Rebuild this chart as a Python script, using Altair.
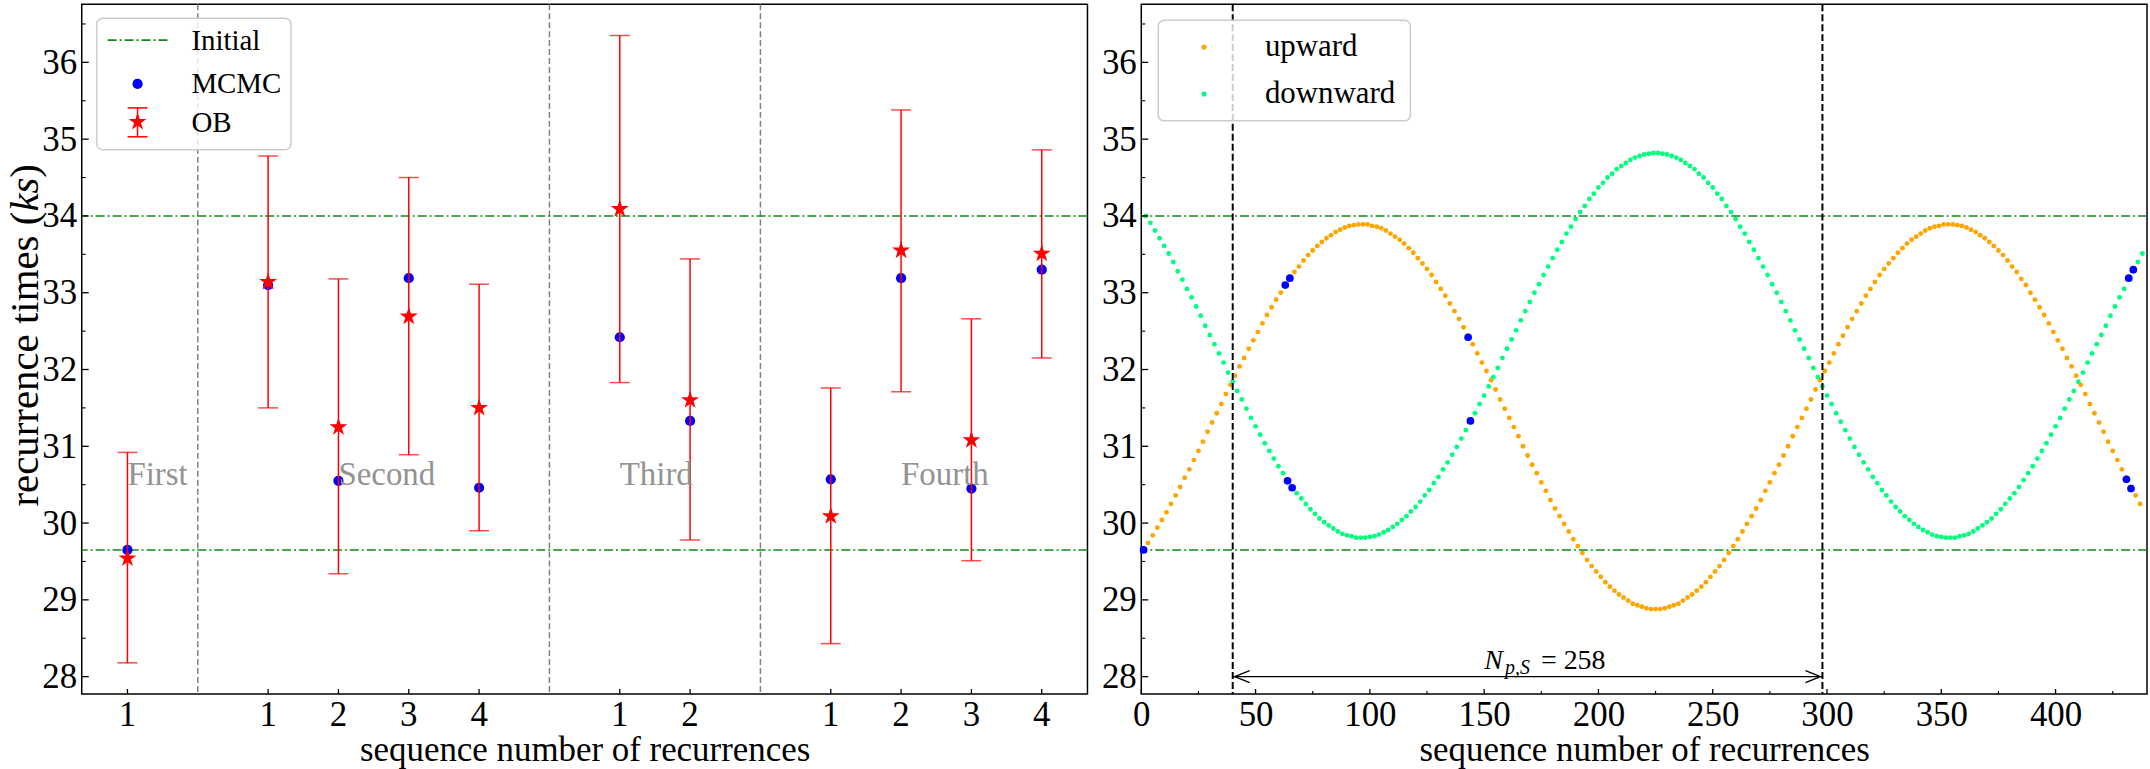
import altair as alt
import pandas as pd

FONT = "Liberation Serif"
W, H = 1009, 692
Y_DOMAIN = [27.774, 36.757]
STAR = ("M0,-1L0.2245,-0.309L0.9511,-0.309L0.3633,0.118L0.5878,0.809L0,0.382"
        "L-0.5878,0.809L-0.3633,0.118L-0.9511,-0.309L-0.2245,-0.309Z")

# ---------------- left panel data ----------------
positions = [0, 2, 3, 4, 5, 7, 8, 10, 11, 12, 13]
tick_labels = ["1", "1", "2", "3", "4", "1", "2", "1", "2", "3", "4"]
mcmc_values = [29.65, 33.10, 30.55, 33.19, 30.46, 32.42, 31.33, 30.57, 33.19, 30.45, 33.30]
ob_values = [29.54, 33.14, 31.25, 32.69, 31.50, 34.09, 31.60, 30.09, 33.55, 31.08, 33.51]
ob_low = [28.18, 31.50, 29.34, 30.89, 29.90, 31.83, 29.78, 28.43, 31.71, 29.51, 32.15]
ob_high = [30.92, 34.78, 33.18, 34.50, 33.11, 36.35, 33.44, 31.76, 35.38, 32.66, 34.86]
separators = [1, 6, 9]
group_names = ["First", "Second", "Third", "Fourth"]
group_x = [0, 3, 7, 11]
group_y = [30.49, 30.49, 30.49, 30.49]
initial_levels = [29.65, 34.0]

# y-axis title pieces (plain, italic, plain)
ytitle_parts = ["recurrence times (", "ks", ")"]
ytitle_style = ["normal", "italic", "normal"]

# ---------------- right panel data ----------------
mcmc_seq = [1, 63, 64, 65, 66, 143, 144, 431, 432, 433, 434]
upward_seq = list(range(1, 438, 2))
downward_seq = list(range(2, 439, 2))
upward_values = [
    29.65, 29.74, 29.84, 29.94, 30.04, 30.14, 30.25, 30.36, 30.47, 30.59,
    30.70, 30.82, 30.94, 31.06, 31.19, 31.31, 31.43, 31.55, 31.68, 31.80,
    31.92, 32.04, 32.15, 32.27, 32.38, 32.49, 32.60, 32.71, 32.81, 32.91,
    33.00, 33.10, 33.18, 33.27, 33.34, 33.42, 33.49, 33.55, 33.61, 33.66,
    33.71, 33.75, 33.79, 33.82, 33.85, 33.87, 33.88, 33.89,
    33.89, 33.89, 33.87, 33.86, 33.84, 33.81, 33.77, 33.73, 33.69, 33.64,
    33.58, 33.52, 33.45, 33.38, 33.31, 33.23, 33.14, 33.05, 32.96, 32.86,
    32.76, 32.66, 32.55, 32.44, 32.33, 32.21, 32.09, 31.98, 31.86, 31.74,
    31.61, 31.49, 31.37, 31.25, 31.13, 31.00, 30.88, 30.76, 30.65, 30.53,
    30.42, 30.30, 30.19, 30.09, 29.99, 29.89, 29.79, 29.70, 29.61, 29.52,
    29.44, 29.37, 29.30, 29.23, 29.17, 29.12, 29.07, 29.03, 28.99, 28.95,
    28.93, 28.91, 28.89, 28.88, 28.88,
    28.88, 28.89, 28.91, 28.93, 28.95, 28.99, 29.03, 29.07, 29.12, 29.17,
    29.23, 29.30, 29.37, 29.44, 29.52, 29.61, 29.70, 29.79, 29.89, 29.99,
    30.09, 30.19, 30.30, 30.42, 30.53, 30.65, 30.76, 30.88, 31.00, 31.13,
    31.25, 31.37, 31.49, 31.61, 31.74, 31.86, 31.98, 32.09, 32.21, 32.33,
    32.44, 32.55, 32.66, 32.76, 32.86, 32.96, 33.05, 33.14, 33.23, 33.31,
    33.38, 33.45, 33.52, 33.58, 33.64, 33.69, 33.73, 33.77, 33.81, 33.84,
    33.86, 33.87, 33.89, 33.89,
    33.89, 33.88, 33.87, 33.85, 33.82, 33.79, 33.75, 33.71, 33.66, 33.61,
    33.55, 33.49, 33.42, 33.34, 33.27, 33.18, 33.10, 33.00, 32.91, 32.81,
    32.71, 32.60, 32.49, 32.38, 32.27, 32.15, 32.04, 31.92, 31.80, 31.68,
    31.55, 31.43, 31.31, 31.19, 31.06, 30.94, 30.82, 30.70, 30.59, 30.47,
    30.36, 30.25,
]
downward_values = [
    34.00, 33.91, 33.81, 33.71, 33.61, 33.51, 33.40, 33.28, 33.17, 33.05,
    32.94, 32.82, 32.70, 32.57, 32.45, 32.33, 32.21, 32.09, 31.96, 31.84,
    31.72, 31.61, 31.49, 31.37, 31.26, 31.15, 31.04, 30.94, 30.84, 30.74,
    30.65, 30.56, 30.47, 30.39, 30.32, 30.25, 30.18, 30.12, 30.06, 30.01,
    29.97, 29.93, 29.89, 29.86, 29.84, 29.83, 29.81, 29.81,
    29.81, 29.82, 29.83, 29.85, 29.88, 29.91, 29.95, 29.99, 30.04, 30.09,
    30.15, 30.21, 30.28, 30.36, 30.43, 30.52, 30.60, 30.70, 30.79, 30.89,
    30.99, 31.10, 31.21, 31.32, 31.43, 31.55, 31.66, 31.78, 31.90, 32.02,
    32.15, 32.27, 32.39, 32.51, 32.64, 32.76, 32.88, 33.00, 33.11, 33.23,
    33.34, 33.45, 33.56, 33.66, 33.77, 33.86, 33.96, 34.05, 34.13, 34.22,
    34.29, 34.37, 34.43, 34.50, 34.55, 34.61, 34.65, 34.69, 34.73, 34.76,
    34.78, 34.80, 34.81, 34.82,
    34.82, 34.81, 34.80, 34.78, 34.76, 34.73, 34.69, 34.65, 34.61, 34.55,
    34.50, 34.43, 34.37, 34.29, 34.22, 34.13, 34.05, 33.96, 33.86, 33.77,
    33.66, 33.56, 33.45, 33.34, 33.23, 33.11, 33.00, 32.88, 32.76, 32.64,
    32.51, 32.39, 32.27, 32.15, 32.02, 31.90, 31.78, 31.66, 31.55, 31.43,
    31.32, 31.21, 31.10, 30.99, 30.89, 30.79, 30.70, 30.60, 30.52, 30.43,
    30.36, 30.28, 30.21, 30.15, 30.09, 30.04, 29.99, 29.95, 29.91, 29.88,
    29.85, 29.83, 29.82, 29.81,
    29.81, 29.81, 29.83, 29.84, 29.86, 29.89, 29.93, 29.97, 30.01, 30.06,
    30.12, 30.18, 30.25, 30.32, 30.39, 30.47, 30.56, 30.65, 30.74, 30.84,
    30.94, 31.04, 31.15, 31.26, 31.37, 31.49, 31.61, 31.72, 31.84, 31.96,
    32.09, 32.21, 32.33, 32.45, 32.57, 32.70, 32.82, 32.94, 33.05, 33.17,
    33.28, 33.40, 33.51,
]
period_marks = [40, 298]
arrow_level = 28.0
np_label_x = 150

# ticks
y_major = [28, 29, 30, 31, 32, 33, 34, 35, 36]
y_minor = [28.5, 29.5, 30.5, 31.5, 32.5, 33.5, 34.5, 35.5, 36.5]
xr_major = [0, 50, 100, 150, 200, 250, 300, 350, 400]
xr_minor = [25, 75, 125, 175, 225, 275, 325, 375, 425]

# ---------------- frames ----------------
left_df = pd.DataFrame({"pos": positions, "lab": tick_labels, "mcmc": mcmc_values, "ob": ob_values,
                        "lo": ob_low, "hi": ob_high})
sep_df = pd.DataFrame({"s": separators})
init_df = pd.DataFrame({"v": initial_levels})
grp_df = pd.DataFrame({"name": group_names, "gx": group_x, "gy": group_y})
up_df = pd.DataFrame({"seq": upward_seq, "val": upward_values})
down_df = pd.DataFrame({"seq": downward_seq, "val": downward_values})
blue_df = pd.DataFrame({"seq": mcmc_seq, "val": mcmc_values})
period_df = pd.DataFrame({"s": period_marks})
arrow_df = pd.DataFrame({"a": [period_marks[0]], "b": [period_marks[1]], "y": [arrow_level],
                         "tx": [np_label_x]})
ymaj_df = pd.DataFrame({"v": y_major})
ymin_df = pd.DataFrame({"v": y_minor})
xrmaj_df = pd.DataFrame({"v": xr_major})
xrmin_df = pd.DataFrame({"v": xr_minor})
one = pd.DataFrame({"k": [0]})

# ---------------- scales & axes ----------------
y_scale = alt.Scale(domain=Y_DOMAIN, nice=False, zero=False)
xl_scale = alt.Scale(domain=[-0.65, 13.65], nice=False, zero=False)
xr_scale = alt.Scale(domain=[0, 440], nice=False, zero=False)

x_axis_left = alt.Axis(values=positions, labels=False,
                       title="sequence number of recurrences", titleY=67,
                       titleBaseline="alphabetic")
x_axis_right = alt.Axis(values=xr_major, format="d",
                        title="sequence number of recurrences",
                        labelBaseline="alphabetic", labelPadding=32,
                        titleBaseline="alphabetic", titleY=67)
y_axis_left = alt.Axis(values=y_major, format="d", title=None, labelPadding=5)
y_axis_right = alt.Axis(values=y_major, format="d", title=None, labelPadding=5)


def XL(f):
    return alt.X(f + ":Q", scale=xl_scale, axis=x_axis_left)


def YL(f):
    return alt.Y(f + ":Q", scale=y_scale, axis=y_axis_left)


def XR(f):
    return alt.X(f + ":Q", scale=xr_scale, axis=x_axis_right)


def YR(f):
    return alt.Y(f + ":Q", scale=y_scale, axis=y_axis_right)


GREEN = "#108a10"
DASHDOT = [9, 3, 2, 3]
DOT_L = 105
STAR_SIZE = 360

# ---------------- left panel ----------------
l_sep = alt.Chart(sep_df).mark_rule(color="#808080", strokeWidth=1.5, strokeDash=[6, 3]).encode(x=XL("s"))
l_init = alt.Chart(init_df).mark_rule(color=GREEN, strokeWidth=1.6, strokeDash=DASHDOT).encode(y=YL("v"))
l_mcmc = alt.Chart(left_df).mark_circle(color="blue", size=DOT_L, opacity=1).encode(x=XL("pos"), y=YL("mcmc"))
l_err = alt.Chart(left_df).mark_rule(color="red", strokeWidth=1.5).encode(x=XL("pos"), y=YL("lo"), y2=alt.Y2("hi"))
l_cap_lo = alt.Chart(left_df).mark_tick(color="red", thickness=1.5, size=20, orient="horizontal").encode(
    x=XL("pos"), y=YL("lo"))
l_cap_hi = alt.Chart(left_df).mark_tick(color="red", thickness=1.5, size=20, orient="horizontal").encode(
    x=XL("pos"), y=YL("hi"))
l_ob = alt.Chart(left_df).mark_point(shape=STAR, filled=True, color="red", size=STAR_SIZE, opacity=1,
                                     strokeWidth=0).encode(x=XL("pos"), y=YL("ob"))
l_grp = alt.Chart(grp_df).mark_text(align="left", baseline="alphabetic", font=FONT, fontSize=33,
                                    color="#939393").encode(x=XL("gx"), y=YL("gy"), text="name:N")
l_xlab = alt.Chart(left_df).mark_text(align="center", baseline="alphabetic", font=FONT, fontSize=35,
                                      color="black").encode(x=XL("pos"), y=alt.value(H + 32), text="lab:N")
l_ytick = alt.Chart(ymaj_df).mark_rule(color="black", strokeWidth=1.3).encode(
    y=YL("v"), x=alt.value(0), x2=alt.value(7))
l_ytick2 = alt.Chart(ymin_df).mark_rule(color="black", strokeWidth=1.1).encode(
    y=YL("v"), x=alt.value(0), x2=alt.value(4))
l_xtick = alt.Chart(left_df).mark_rule(color="black", strokeWidth=1.3).encode(
    x=XL("pos"), y=alt.value(H), y2=alt.value(H - 5))

# y-axis title drawn as three rotated text pieces (so that "ks" is italic)
YT_SIZE = 41
yt_y = [504, 208, 174]
l_ytitle = [
    alt.Chart(one).mark_text(align="left", baseline="alphabetic", angle=270, font=FONT,
                             fontSize=YT_SIZE, fontStyle=st, color="black", text=tx).encode(
        x=alt.value(-44), y=alt.value(yy))
    for tx, st, yy in zip(ytitle_parts, ytitle_style, yt_y)
]

# legend (left)
lg_box = alt.Chart(one).mark_rect(fill="white", fillOpacity=0.8, stroke="#cccccc", strokeWidth=1.5,
                                  cornerRadius=6).encode(
    x=alt.value(15), x2=alt.value(210), y=alt.value(14), y2=alt.value(146))
lg_line = alt.Chart(one).mark_rule(color=GREEN, strokeWidth=1.6, strokeDash=DASHDOT).encode(
    x=alt.value(26), x2=alt.value(86), y=alt.value(36))
lg_dot = alt.Chart(one).mark_circle(color="blue", size=DOT_L, opacity=1).encode(x=alt.value(56), y=alt.value(80))
lg_eb = alt.Chart(one).mark_rule(color="red", strokeWidth=1.5).encode(
    x=alt.value(56), y=alt.value(104), y2=alt.value(133))
lg_c1 = alt.Chart(one).mark_rule(color="red", strokeWidth=1.5).encode(
    x=alt.value(46), x2=alt.value(66), y=alt.value(104))
lg_c2 = alt.Chart(one).mark_rule(color="red", strokeWidth=1.5).encode(
    x=alt.value(46), x2=alt.value(66), y=alt.value(133))
lg_star = alt.Chart(one).mark_point(shape=STAR, filled=True, color="red", size=STAR_SIZE, opacity=1,
                                    strokeWidth=0).encode(x=alt.value(56), y=alt.value(118))
lg_texts = [
    alt.Chart(one).mark_text(align="left", baseline="middle", font=FONT, fontSize=29, color="black",
                             text=t).encode(x=alt.value(110), y=alt.value(yy))
    for t, yy in [("Initial", 37), ("MCMC", 80), ("OB", 119)]
]

left = alt.layer(l_sep, l_init, l_mcmc, l_err, l_cap_lo, l_cap_hi, l_ob, l_grp, l_xlab,
                 l_ytick, l_ytick2, l_xtick, *l_ytitle,
                 lg_box, lg_line, lg_dot, lg_eb, lg_c1, lg_c2, lg_star, *lg_texts).properties(width=W, height=H)

# ---------------- right panel ----------------
r_up = alt.Chart(up_df).mark_circle(color="orange", size=24, opacity=1).encode(x=XR("seq"), y=YR("val"))
r_down = alt.Chart(down_df).mark_circle(color="springgreen", size=24, opacity=1).encode(x=XR("seq"), y=YR("val"))
r_init = alt.Chart(init_df).mark_rule(color=GREEN, strokeWidth=1.6, strokeDash=DASHDOT).encode(y=YR("v"))
r_period = alt.Chart(period_df).mark_rule(color="black", strokeWidth=2, strokeDash=[7, 3]).encode(x=XR("s"))
r_blue = alt.Chart(blue_df).mark_circle(color="blue", size=60, opacity=1).encode(x=XR("seq"), y=YR("val"))
r_arrow = alt.Chart(arrow_df).mark_rule(color="black", strokeWidth=1.3).encode(
    x=XR("a"), x2=alt.X2("b"), y=YR("y"))
r_heads = []
for fld, x0, x1 in [("a", 2, 17), ("b", -2, -17)]:
    for dy in (-6, 6):
        r_heads.append(
            alt.Chart(arrow_df).mark_rule(color="black", strokeWidth=1.3, xOffset=x0,
                                          x2Offset=x1, y2Offset=dy).encode(
                x=XR(fld), x2=alt.X2(fld), y=YR("y"), y2=alt.Y2("y")))
r_t1 = alt.Chart(arrow_df).mark_text(align="left", baseline="alphabetic", font=FONT, fontSize=28,
                                     fontStyle="italic", color="black", text="N", dy=-8).encode(
    x=XR("tx"), y=YR("y"))
r_t2 = alt.Chart(arrow_df).mark_text(align="left", baseline="alphabetic", font=FONT, fontSize=20,
                                     fontStyle="italic", color="black", text="p,S", dx=21, dy=-3).encode(
    x=XR("tx"), y=YR("y"))
r_t3 = alt.Chart(arrow_df).mark_text(align="left", baseline="alphabetic", font=FONT, fontSize=28,
                                     color="black", text="= 258", dx=57, dy=-8).encode(
    x=XR("tx"), y=YR("y"))
r_ytick = alt.Chart(ymaj_df).mark_rule(color="black", strokeWidth=1.3).encode(
    y=YR("v"), x=alt.value(0), x2=alt.value(7))
r_ytick2 = alt.Chart(ymin_df).mark_rule(color="black", strokeWidth=1.1).encode(
    y=YR("v"), x=alt.value(0), x2=alt.value(4))
r_xtick = alt.Chart(xrmaj_df).mark_rule(color="black", strokeWidth=1.3).encode(
    x=XR("v"), y=alt.value(H), y2=alt.value(H - 5))
r_xtick2 = alt.Chart(xrmin_df).mark_rule(color="black", strokeWidth=1.1).encode(
    x=XR("v"), y=alt.value(H), y2=alt.value(H - 3))

rg_box = alt.Chart(one).mark_rect(fill="white", fillOpacity=0.8, stroke="#cccccc", strokeWidth=1.5,
                                  cornerRadius=6).encode(
    x=alt.value(17), x2=alt.value(270), y=alt.value(16), y2=alt.value(117))
rg_up = alt.Chart(one).mark_circle(color="orange", size=26, opacity=1).encode(x=alt.value(63), y=alt.value(43))
rg_down = alt.Chart(one).mark_circle(color="springgreen", size=26, opacity=1).encode(x=alt.value(63), y=alt.value(90))
rg_texts = [
    alt.Chart(one).mark_text(align="left", baseline="middle", font=FONT, fontSize=31, color="black",
                             text=t).encode(x=alt.value(124), y=alt.value(yy))
    for t, yy in [("upward", 43), ("downward", 90)]
]

right = alt.layer(r_up, r_down, r_init, r_period, r_blue, r_arrow, *r_heads,
                  r_t1, r_t2, r_t3, r_ytick, r_ytick2, r_xtick, r_xtick2,
                  rg_box, rg_up, rg_down, *rg_texts).properties(width=W, height=H)

chart = alt.hconcat(left, right, spacing=11).properties(
    padding={"left": 4, "top": 1, "right": 1, "bottom": 0}
).configure_view(
    stroke="black", strokeWidth=1.5
).configure_axis(
    domain=False, ticks=False, grid=False,
    labelFont=FONT, labelFontSize=35, labelColor="black",
    labelFlush=False, labelOverlap=False,
    titleFont=FONT, titleFontSize=35, titleColor="black", titleFontWeight="normal"
)

chart.save("out.html", embed_options={"renderer": "svg", "actions": False})
